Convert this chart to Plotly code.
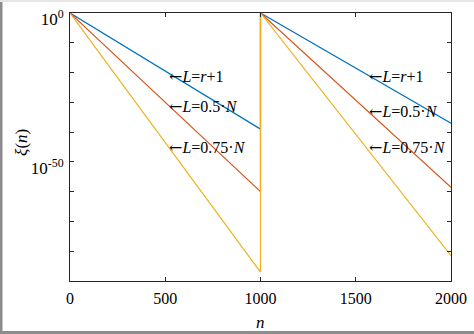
import plotly.graph_objects as go

# Iteration index n: two runs of 1000 steps, the second restarting at n = 1000
n = [0, 1000, 1000, 2000]

# log10 of xi(n) at the run boundaries for each choice of L
log_xi_r1 = [0, -39, 0, -37]        # L = r+1
log_xi_half = [0, -60, 0, -58.5]    # L = 0.5*N
log_xi_3q = [0, -87, 0, -81.5]      # L = 0.75*N

series_names = ["L=r+1", "L=0.5·N", "L=0.75·N"]
series_logs = [log_xi_r1, log_xi_half, log_xi_3q]
series_colors = ["#0072BD", "#D95319", "#EDB120"]

# Curve labels: (n, log10 xi) where each label starts
ARROW = '<span style="font-family:DejaVu Serif">←</span>'
label_texts = [
    ARROW + "<i>L</i>=<i>r</i>+1",
    ARROW + "<i>L</i>=0.5·<i>N</i>",
    ARROW + "<i>L</i>=0.75·<i>N</i>",
]
label_pos_left = [(509, -21.3), (509, -31.5), (509, -45.3)]
label_pos_right = [(1559, -21.3), (1559, -33.2), (1559, -45.3)]

x_ticks = [0, 500, 1000, 1500, 2000]
y_tick_exps = list(range(-90, 1, 10))
y_tick_text = {0: "10<sup>0</sup>", -50: "10<sup>-50</sup>"}

FONT = "Liberation Serif, Times New Roman, serif"
AXIS_COLOR = "#262626"

fig = go.Figure()
for name, logs, color in zip(series_names, series_logs, series_colors):
    fig.add_trace(go.Scatter(
        x=n, y=[10 ** v for v in logs], mode="lines", name=name,
        line=dict(color=color, width=1.2),
    ))

annotations = []
for txt, (px, py) in zip(label_texts + label_texts, label_pos_left + label_pos_right):
    annotations.append(dict(x=px, y=py, xref="x", yref="y", text=txt,
                            showarrow=False, xanchor="left", yanchor="middle",
                            font=dict(family=FONT, size=16, color="black")))

# Axis titles
annotations.append(dict(x=0.5, y=-0.153, xref="paper", yref="paper",
                        text="<i>n</i>", showarrow=False,
                        xanchor="center", yanchor="middle",
                        font=dict(family=FONT, size=17, color="black")))
annotations.append(dict(x=-0.126, y=0.519, xref="paper", yref="paper",
                        text="<i>ξ</i>(<i>n</i>)", showarrow=False, textangle=-90,
                        xanchor="center", yanchor="middle",
                        font=dict(family=FONT, size=17, color="black")))

# Frame around the figure
shapes = [
    dict(type="rect", xref="paper", yref="paper",
         x0=-70 / 381, x1=-67.5 / 381, y0=-53 / 268, y1=1 + 13 / 268,
         fillcolor="#8c8c8c", line=dict(width=0), layer="above"),
    dict(type="rect", xref="paper", yref="paper",
         x0=-70 / 381, x1=1 + 23 / 381, y0=-53 / 268, y1=-50 / 268,
         fillcolor="#8c8c8c", line=dict(width=0), layer="above"),
    dict(type="rect", xref="paper", yref="paper",
         x0=-70 / 381, x1=1 + 23 / 381, y0=1 + 11 / 268, y1=1 + 13 / 268,
         fillcolor="#e6e6e6", line=dict(width=0), layer="above"),
]

fig.update_layout(
    width=474, height=334,
    margin=dict(l=70, r=23, t=13, b=53, autoexpand=False),
    paper_bgcolor="white", plot_bgcolor="white",
    showlegend=False,
    font=dict(family=FONT, size=16, color="black"),
    annotations=annotations,
    shapes=shapes,
    xaxis=dict(
        range=[0, 2000], tickvals=x_ticks, ticktext=[str(t) for t in x_ticks],
        showline=True, mirror="ticks", linecolor=AXIS_COLOR, linewidth=1,
        ticks="inside", ticklen=4, tickcolor=AXIS_COLOR, tickwidth=1,
        showgrid=False, zeroline=False, automargin=False,
        ticklabelstandoff=3,
        tickfont=dict(family=FONT, size=16, color="black"),
    ),
    yaxis=dict(
        type="log", range=[-90, 0],
        tickvals=[10 ** e for e in y_tick_exps],
        ticktext=[y_tick_text.get(e, "") for e in y_tick_exps],
        showline=True, mirror="ticks", linecolor=AXIS_COLOR, linewidth=1,
        ticks="inside", ticklen=4, tickcolor=AXIS_COLOR, tickwidth=1,
        showgrid=False, zeroline=False, automargin=False,
        ticklabelshift=6, ticklabelstandoff=2, ticklabeloverflow="allow",
        tickfont=dict(family=FONT, size=17, color="black"),
    ),
)

fig.write_html("out.html")
